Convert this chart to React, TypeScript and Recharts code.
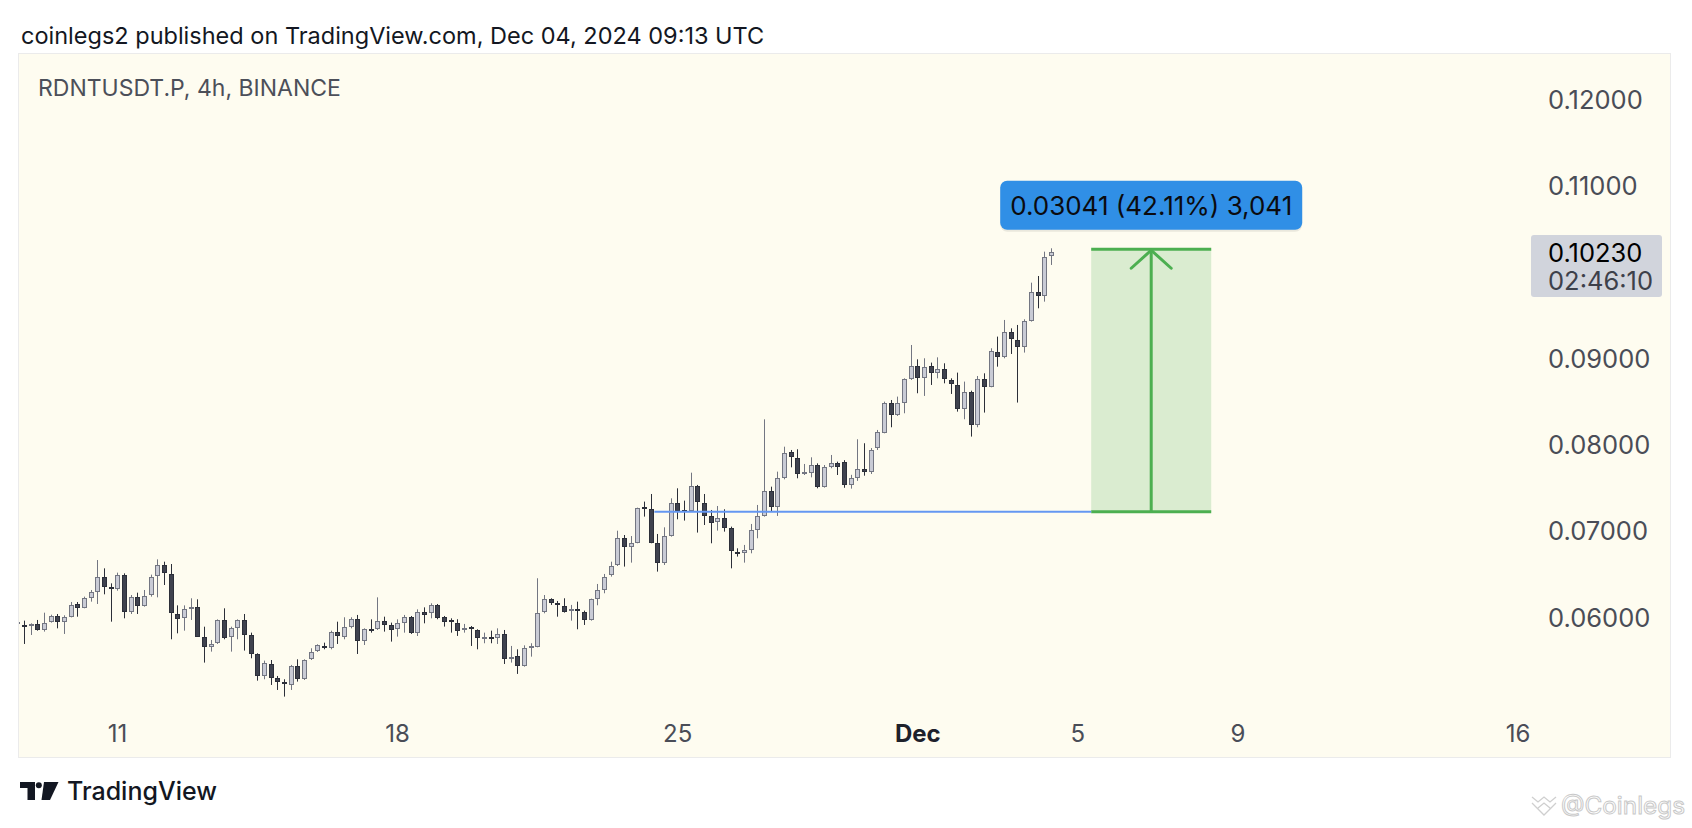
import React from "react";
import {
  Bar,
  ComposedChart,
  ReferenceArea,
  ReferenceLine,
  XAxis,
  YAxis,
} from "recharts";

// RDNTUSDT.P 4h candles, first bar opens Nov 8 2024 12:00 UTC
const FIRST_BAR = Date.UTC(2024, 10, 8, 12);
const BAR_MS = 4 * 3600 * 1000;

const OPEN = [
  0.0593, 0.05911, 0.05899, 0.05922, 0.05853, 0.05945, 0.06015, 0.05945, 0.06007, 0.0615,
  0.06111, 0.0622, 0.06297, 0.0647, 0.06347, 0.06328, 0.06494, 0.06065, 0.06239, 0.06131,
  0.06254, 0.06478, 0.06605, 0.06497, 0.06038, 0.05992, 0.06092, 0.06115, 0.05776, 0.05652,
  0.05698, 0.05969, 0.05768, 0.05872, 0.05969, 0.05795, 0.05575, 0.0532, 0.05459, 0.05293,
  0.05255, 0.05216, 0.05436, 0.05282, 0.05513, 0.0561, 0.05668, 0.05641, 0.05834, 0.05776,
  0.05891, 0.05976, 0.05725, 0.05864, 0.05861, 0.05961, 0.05911, 0.05861, 0.0593, 0.06007,
  0.05822, 0.06065, 0.06046, 0.06143, 0.06, 0.05969, 0.05938, 0.05865, 0.05884, 0.05853,
  0.05764, 0.05776, 0.05757, 0.05807, 0.05533, 0.05552, 0.05436, 0.05652, 0.0566, 0.06065,
  0.06208, 0.06162, 0.06131, 0.06081, 0.06092, 0.06065, 0.05969, 0.06208, 0.06316, 0.0649,
  0.06606, 0.06914, 0.06818, 0.06865, 0.07274, 0.07251, 0.06857, 0.06625, 0.06942, 0.07328,
  0.07243, 0.07235, 0.07521, 0.07328, 0.07174, 0.07108, 0.07147, 0.07031, 0.06761, 0.06741,
  0.0678, 0.07011, 0.07174, 0.07467, 0.07282, 0.0761, 0.07918, 0.07841, 0.07675, 0.07675,
  0.07764, 0.07513, 0.07745, 0.07791, 0.078, 0.0753, 0.0761, 0.0772, 0.0768, 0.07958,
  0.08139, 0.08479, 0.08344, 0.08487, 0.08757, 0.08911, 0.08768, 0.08911, 0.08834, 0.08873,
  0.08749, 0.08691, 0.08409, 0.08614, 0.08228, 0.08757, 0.08672, 0.09077, 0.09011, 0.09309,
  0.09212, 0.09127, 0.09436, 0.09772, 0.09722, 0.10185,
];
const HIGH = [
  0.06038, 0.05961, 0.0593, 0.05969, 0.06053, 0.0603, 0.06038, 0.06023, 0.06177, 0.06177,
  0.06239, 0.06316, 0.06663, 0.06567, 0.06393, 0.06517, 0.06509, 0.06258, 0.06285, 0.06316,
  0.06494, 0.06671, 0.06644, 0.06617, 0.06138, 0.06138, 0.0622, 0.06208, 0.05891, 0.05737,
  0.05976, 0.06104, 0.05891, 0.05976, 0.06038, 0.05822, 0.05583, 0.05498, 0.05505, 0.0532,
  0.05282, 0.05448, 0.05513, 0.05513, 0.05641, 0.05687, 0.05706, 0.05845, 0.05949, 0.06,
  0.06, 0.06027, 0.05872, 0.05976, 0.06231, 0.06007, 0.05938, 0.05976, 0.06027, 0.06015,
  0.06092, 0.06115, 0.06162, 0.06154, 0.06015, 0.05988, 0.05977, 0.05923, 0.05899, 0.05861,
  0.05822, 0.05845, 0.05872, 0.05853, 0.05668, 0.05629, 0.05675, 0.05699, 0.06452, 0.06258,
  0.0622, 0.06189, 0.0622, 0.06143, 0.06181, 0.06077, 0.06216, 0.06386, 0.06502, 0.06644,
  0.07003, 0.06953, 0.06941, 0.0727, 0.0734, 0.07428, 0.06965, 0.07042, 0.07378, 0.07494,
  0.07351, 0.07675, 0.07533, 0.07428, 0.07243, 0.07289, 0.07251, 0.0705, 0.06799, 0.06838,
  0.07081, 0.07301, 0.08293, 0.07513, 0.07687, 0.07976, 0.07938, 0.07946, 0.07776, 0.07853,
  0.07783, 0.07764, 0.0788, 0.07803, 0.0782, 0.0765, 0.08062, 0.08016, 0.0796, 0.0817,
  0.08498, 0.08517, 0.08556, 0.08768, 0.09154, 0.08988, 0.09, 0.0895, 0.09011, 0.08942,
  0.08768, 0.08834, 0.0873, 0.08625, 0.08795, 0.08826, 0.09116, 0.09251, 0.09444, 0.09347,
  0.09386, 0.09452, 0.09876, 0.09953, 0.10235, 0.10274,
];
const LOW = [
  0.05899, 0.05691, 0.05795, 0.05845, 0.05834, 0.05938, 0.05872, 0.05807, 0.05999, 0.06007,
  0.06104, 0.06181, 0.06154, 0.06266, 0.05949, 0.06308, 0.05988, 0.06038, 0.06038, 0.06123,
  0.06239, 0.06231, 0.06374, 0.05745, 0.05814, 0.05845, 0.05969, 0.05776, 0.05475, 0.05602,
  0.05691, 0.05745, 0.05602, 0.05745, 0.05614, 0.05525, 0.05266, 0.05282, 0.05216, 0.05158,
  0.05081, 0.05158, 0.05255, 0.05274, 0.05505, 0.05598, 0.05629, 0.05629, 0.05691, 0.05745,
  0.05872, 0.05575, 0.05679, 0.05822, 0.05853, 0.05834, 0.05718, 0.05776, 0.05822, 0.05807,
  0.05783, 0.0593, 0.05988, 0.05977, 0.05892, 0.05822, 0.05784, 0.05822, 0.05668, 0.05629,
  0.05699, 0.05699, 0.05691, 0.05459, 0.05475, 0.05344, 0.05428, 0.05544, 0.05652, 0.06046,
  0.06143, 0.06007, 0.06054, 0.05961, 0.05861, 0.05911, 0.05961, 0.06139, 0.06278, 0.06471,
  0.06594, 0.06587, 0.06633, 0.06857, 0.07166, 0.06857, 0.06529, 0.06606, 0.06934, 0.07135,
  0.0712, 0.07224, 0.06981, 0.07069, 0.06857, 0.07004, 0.06992, 0.06567, 0.06703, 0.06633,
  0.06741, 0.06915, 0.07166, 0.07224, 0.07174, 0.07598, 0.07737, 0.0761, 0.07648, 0.07621,
  0.07494, 0.07502, 0.07726, 0.07648, 0.075, 0.0749, 0.0758, 0.0764, 0.0766, 0.07938,
  0.08131, 0.08201, 0.08332, 0.08363, 0.08749, 0.08595, 0.08564, 0.08691, 0.08768, 0.0871,
  0.08587, 0.08382, 0.08294, 0.08093, 0.08201, 0.08371, 0.08664, 0.08903, 0.09, 0.0905,
  0.08487, 0.09066, 0.09425, 0.09579, 0.09656, 0.10081,
];
const CLOSE = [
  0.05949, 0.05905, 0.05922, 0.05853, 0.0593, 0.06015, 0.05945, 0.06007, 0.06142, 0.06111,
  0.0622, 0.06297, 0.0647, 0.06355, 0.06328, 0.06494, 0.06065, 0.06239, 0.06131, 0.06247,
  0.0647, 0.06605, 0.06509, 0.06046, 0.05984, 0.06092, 0.06115, 0.05776, 0.05652, 0.05691,
  0.05969, 0.05756, 0.05872, 0.05969, 0.05795, 0.05575, 0.0532, 0.05467, 0.05293, 0.05255,
  0.05243, 0.05436, 0.05282, 0.05505, 0.05602, 0.05675, 0.05648, 0.05834, 0.05783, 0.05884,
  0.05976, 0.05725, 0.05861, 0.05849, 0.05961, 0.05911, 0.05853, 0.0593, 0.06007, 0.05822,
  0.06065, 0.06027, 0.06142, 0.05988, 0.0595, 0.05957, 0.05845, 0.0588, 0.05872, 0.05757,
  0.05776, 0.05764, 0.05807, 0.05513, 0.05544, 0.05436, 0.05648, 0.05668, 0.06054, 0.06208,
  0.06162, 0.0615, 0.06065, 0.06092, 0.06077, 0.05969, 0.06208, 0.06316, 0.06471, 0.06594,
  0.06914, 0.0681, 0.06864, 0.07262, 0.07262, 0.06865, 0.06625, 0.06942, 0.07328, 0.07235,
  0.07231, 0.07521, 0.0734, 0.07174, 0.07096, 0.07147, 0.07031, 0.06772, 0.06733, 0.0678,
  0.07011, 0.07174, 0.07467, 0.07274, 0.0761, 0.07907, 0.07853, 0.0766, 0.07687, 0.07764,
  0.07506, 0.07737, 0.07791, 0.07745, 0.0753, 0.0761, 0.0772, 0.0768, 0.0794, 0.08151,
  0.08487, 0.08344, 0.08479, 0.08757, 0.08911, 0.08768, 0.08903, 0.08834, 0.08873, 0.08757,
  0.08703, 0.08409, 0.08614, 0.08228, 0.08757, 0.08672, 0.09089, 0.09011, 0.09309, 0.0922,
  0.09127, 0.09436, 0.09772, 0.09722, 0.10169, 0.1023,
];

const TICK_TIMES = [
  Date.UTC(2024, 10, 11),
  Date.UTC(2024, 10, 18),
  Date.UTC(2024, 10, 25),
  Date.UTC(2024, 11, 1),
  Date.UTC(2024, 11, 5),
  Date.UTC(2024, 11, 9),
  Date.UTC(2024, 11, 16),
];
const TICK_LABELS = ["11", "18", "25", "Dec", "5", "9", "16"];
const PRICE_TICKS = [0.06, 0.07, 0.08, 0.09, 0.11, 0.12];

// price range drawing
const BASE_LINE_FROM = Date.UTC(2024, 10, 24, 10);
const MEASURE_FROM = Date.UTC(2024, 11, 5, 8);
const MEASURE_TO = Date.UTC(2024, 11, 8, 8);
const MEASURE_LOW = 0.07222;
const MEASURE_HIGH = 0.10263;
const COUNTDOWN = "02:46:10";

const VIEW_FROM = FIRST_BAR + 0.225 * BAR_MS;
const VIEW_TO = FIRST_BAR + 226.5 * BAR_MS;
const PRICE_MIN = 0.048333;
const PRICE_MAX = 0.125247;

const FONT = "Inter, 'Noto Sans', sans-serif";
const UP_FILL = "#c9cbd5";
const UP_LINE = "#737682";
const DOWN_FILL = "#3f424e";
const DOWN_LINE = "#2c2f39";

const candles = OPEN.map((open, i) => ({
  t: FIRST_BAR + i * BAR_MS,
  range: [LOW[i], HIGH[i]],
  open,
  high: HIGH[i],
  low: LOW[i],
  close: CLOSE[i],
}));

function Candle(props: any) {
  const { x, y, width, height, payload } = props;
  if (x == null || !payload) return null;
  const { open, close, high, low } = payload;
  const span = high - low || 1;
  const toY = (p: number) => y + ((high - p) / span) * height;
  const c = Math.floor(x + width / 2) + 0.5;
  const up = close >= open;
  const top = Math.round(toY(Math.max(open, close)));
  const bottom = Math.max(Math.round(toY(Math.min(open, close))), top + 2);
  const line = up ? UP_LINE : DOWN_LINE;
  return (
    <g>
      <line x1={c} x2={c} y1={y} y2={y + height} stroke={line} strokeWidth={1} />
      <rect
        x={c - 2}
        y={top + 0.5}
        width={4}
        height={bottom - top - 1}
        fill={up ? UP_FILL : DOWN_FILL}
        stroke={line}
        strokeWidth={1}
      />
    </g>
  );
}

function MeasureShape(props: any) {
  const { x, y, width, height } = props;
  if (x == null) return null;
  const mid = x + width / 2;
  const diff = MEASURE_HIGH - MEASURE_LOW;
  const pct = (diff / MEASURE_LOW) * 100;
  const ticks = Math.round(diff * 100000);
  const text = `${diff.toFixed(5)} (${pct.toFixed(2)}%) ${ticks.toLocaleString("en-US")}`;
  const boxW = 302;
  const boxH = 49;
  const boxY = y - 44 - boxH / 2;
  return (
    <g>
      <rect x={x} y={y} width={width} height={height} fill="#4caf50" fillOpacity={0.2} />
      <line x1={x} x2={x + width} y1={y} y2={y} stroke="#4caf50" strokeWidth={3} />
      <line x1={x} x2={x + width} y1={y + height} y2={y + height} stroke="#4caf50" strokeWidth={3} />
      <line x1={mid} x2={mid} y1={y + height} y2={y + 1} stroke="#4caf50" strokeWidth={3} />
      <polyline
        points={`${mid - 20},${y + 19} ${mid},${y + 1} ${mid + 20},${y + 19}`}
        fill="none"
        stroke="#4caf50"
        strokeWidth={3}
        strokeLinecap="round"
      />
      <rect x={mid - boxW / 2} y={boxY + 2} width={boxW} height={boxH} rx={7} fill="#000" opacity={0.08} />
      <rect x={mid - boxW / 2} y={boxY} width={boxW} height={boxH} rx={7} fill="#308fe6" />
      <text
        x={mid}
        y={boxY + boxH / 2}
        textAnchor="middle"
        dominantBaseline="central"
        fontFamily={FONT}
        fontSize={26}
        fill="#0b0b0f"
      >
        {text}
      </text>
    </g>
  );
}

function PriceTag(props: any) {
  const vb = props.viewBox;
  if (!vb) return null;
  const left = vb.x + vb.width + 3;
  const cy = vb.y;
  return (
    <g>
      <rect x={left} y={cy - 17} width={131} height={62} rx={3} fill="#d1d4dc" />
      <text x={left + 17} y={cy} dominantBaseline="central" fontFamily={FONT} fontSize={25.5} fill="#000">
        {CLOSE[CLOSE.length - 1].toFixed(5)}
      </text>
      <text x={left + 17} y={cy + 28} dominantBaseline="central" fontFamily={FONT} fontSize={25.5} fill="#3d404a">
        {COUNTDOWN}
      </text>
    </g>
  );
}

function PriceTick(props: any) {
  const { x, y, payload } = props;
  return (
    <text x={x + 20} y={y} dominantBaseline="central" fontFamily={FONT} fontSize={25.5} fill="#4a4d57">
      {Number(payload.value).toFixed(5)}
    </text>
  );
}

function TimeTick(props: any) {
  const { x, y, payload } = props;
  const idx = TICK_TIMES.indexOf(payload.value);
  const label = TICK_LABELS[idx] ?? "";
  const bold = label === "Dec";
  return (
    <text
      x={x}
      y={y + 15}
      textAnchor="middle"
      dominantBaseline="central"
      fontFamily={FONT}
      fontSize={24}
      fontWeight={bold ? 700 : 400}
      fill={bold ? "#1e212b" : "#4a4d57"}
    >
      {label}
    </text>
  );
}

function TvLogo() {
  return (
    <svg width={40} height={20} viewBox="0 0 40 20" style={{ position: "absolute", left: 20, top: 782 }}>
      <path d="M0 0 H15 V18 H7.5 V6 H0 Z" fill="#131722" />
      <circle cx={18.8} cy={3.2} r={3} fill="#131722" />
      <path d="M24 0 H38.5 L30 18 H21.5 Z" fill="#131722" />
    </svg>
  );
}

export default function App() {
  return (
    <div
      style={{
        position: "absolute",
        left: 0,
        top: 0,
        width: 1692,
        height: 828,
        background: "#ffffff",
        overflow: "hidden",
        fontFamily: FONT,
      }}
    >
      <div style={{ position: "absolute", left: 21, top: 21, fontSize: 23.5, lineHeight: "30px", color: "#131722" }}>
        coinlegs2 published on TradingView.com, Dec 04, 2024 09:13 UTC
      </div>

      <div
        style={{
          position: "absolute",
          left: 18,
          top: 53,
          width: 1653,
          height: 705,
          boxSizing: "border-box",
          border: "1px solid #ebebeb",
          background: "#fefcf0",
        }}
      />

      <div style={{ position: "absolute", left: 19, top: 54 }}>
        <ComposedChart
          width={1651}
          height={703}
          data={candles}
          margin={{ top: 0, right: 0, bottom: 0, left: 0 }}
        >
          <XAxis
            dataKey="t"
            type="number"
            scale="linear"
            domain={[VIEW_FROM, VIEW_TO]}
            allowDataOverflow
            ticks={TICK_TIMES}
            interval={0}
            height={39}
            axisLine={false}
            tickLine={false}
            tickSize={0}
            tickMargin={0}
            tick={<TimeTick />}
          />
          <YAxis
            orientation="right"
            type="number"
            domain={[PRICE_MIN, PRICE_MAX]}
            allowDataOverflow
            ticks={PRICE_TICKS}
            interval={0}
            width={142}
            axisLine={false}
            tickLine={false}
            tickSize={0}
            tickMargin={0}
            tick={<PriceTick />}
          />
          <Bar dataKey="range" barSize={5} shape={<Candle />} isAnimationActive={false} />
          <ReferenceLine
            segment={[
              { x: BASE_LINE_FROM, y: MEASURE_LOW },
              { x: MEASURE_FROM, y: MEASURE_LOW },
            ]}
            stroke="#6497f2"
            strokeWidth={2}
            ifOverflow="visible"
          />
          <ReferenceArea
            x1={MEASURE_FROM}
            x2={MEASURE_TO}
            y1={MEASURE_LOW}
            y2={MEASURE_HIGH}
            ifOverflow="visible"
            shape={(p: any) => <MeasureShape {...p} />}
          />
          <ReferenceLine
            y={CLOSE[CLOSE.length - 1]}
            stroke="none"
            ifOverflow="visible"
            label={(p: any) => <PriceTag {...p} />}
          />
        </ComposedChart>
      </div>

      <div style={{ position: "absolute", left: 38, top: 73, fontSize: 23, lineHeight: "30px", color: "#4c4f59" }}>
        RDNTUSDT.P, 4h, BINANCE
      </div>

      <TvLogo />
      <div
        style={{
          position: "absolute",
          left: 67,
          top: 774,
          fontSize: 25,
          lineHeight: "34px",
          color: "#131722",
          fontWeight: 500,
        }}
      >
        TradingView
      </div>

      <svg width={170} height={40} style={{ position: "absolute", left: 1522, top: 788 }}>
        <path
          d="M10 9 L16 14 L22 9 L28 14 L34 9 M10 15 L22 27 L34 15 M16 20 L22 15 L28 20"
          fill="none"
          stroke="#cfcfcf"
          strokeWidth={1.3}
        />
        <text
          x={39}
          y={26}
          fontFamily={FONT}
          fontSize={24}
          textLength={124}
          lengthAdjust="spacingAndGlyphs"
          fill="#ffffff"
          stroke="#c9c9c9"
          strokeWidth={1}
        >
          @Coinlegs
        </text>
      </svg>
    </div>
  );
}
